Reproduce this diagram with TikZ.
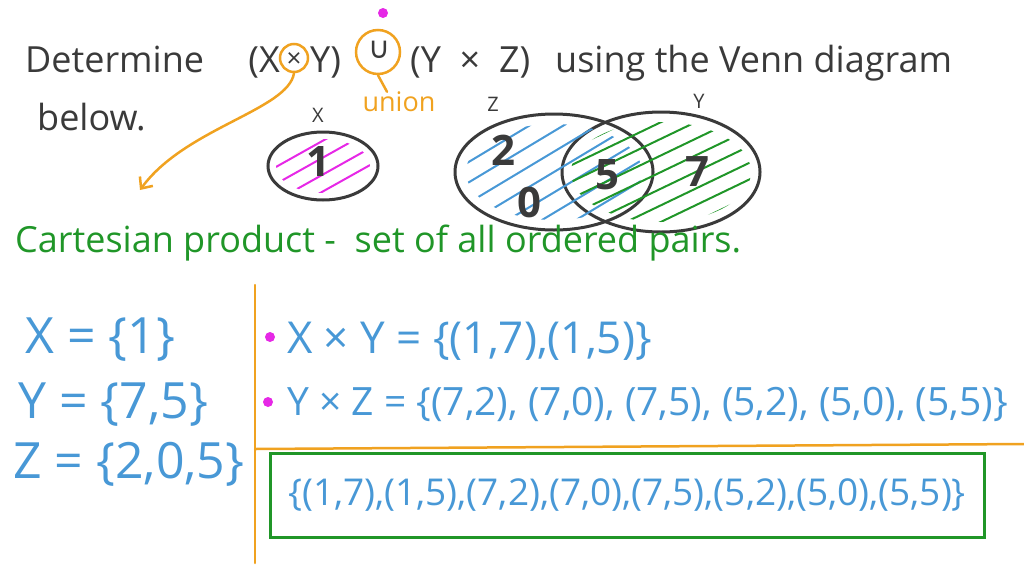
\documentclass[tikz,border=0pt]{standalone}
\usepackage{fontspec}
\setmainfont{Open Sans}
\newfontfamily\symfont{DejaVu Sans}
\usetikzlibrary{positioning,shapes,arrows.meta}
\definecolor{inkgray}{RGB}{58,58,58}
\definecolor{markorange}{RGB}{240,162,32}
\definecolor{markpink}{RGB}{230,40,230}
\definecolor{workblue}{RGB}{72,152,214}
\definecolor{notegreen}{RGB}{32,150,40}
\tikzstyle{title}=[text=inkgray, font=\fontsize{36}{40}\selectfont, inner sep=0pt, anchor=base west]
\tikzstyle{setlabel}=[text=inkgray, font=\fontsize{20}{24}\selectfont, inner sep=0pt]
\tikzstyle{digit}=[text=inkgray, font=\bfseries\fontsize{42}{46}\selectfont, inner sep=0pt]
\tikzstyle{setoval}=[ellipse, draw=inkgray, line width=3pt, inner sep=0pt]
\tikzstyle{ring}=[circle, draw=markorange, line width=2.5pt, inner sep=0pt]
\tikzstyle{markline}=[draw=markorange, line width=2.5pt, line cap=round]
\tikzstyle{dot}=[circle, fill=markpink, inner sep=0pt, minimum size=10pt]
\tikzstyle{work}=[text=workblue, inner sep=0pt, anchor=base west]
\tikzstyle{hatch}=[line width=2pt, line cap=round]

\begin{document}
\begin{tikzpicture}[x=1pt,y=-1pt]
  \useasboundingbox (0,0) rectangle (1024,576);
  % question
  \node (det) [title] at (25,72) {Determine};
  \node (lpx) [title, anchor=base east] at (280,72) {(X};
  \node (times) [title, anchor=center, font=\fontsize{26}{30}\selectfont] at (294,60) {×};
  \node (ryp) [title] at (310,72) {Y)};
  \node (cup) [title, anchor=center, font=\symfont\fontsize{30}{34}\selectfont] at (379,50) {∪};
  \node (yz) [title] at (410,72) {(Y\ \ ×\ \ Z)};
  \node (rest) [title] at (555,72) {using the Venn diagram};
  \node (below) [title] at (37,130) {below.};

  % orange marks
  \node (timesring) [ring, minimum size=28pt] at (294,58) {};
  \node (cupring) [ring, minimum size=44pt] at (378,52) {};
  \node (topdot) [dot] at (383,13) {};
  \node (union) [text=markorange, font=\fontsize{27}{30}\selectfont, inner sep=0pt] at (399,102) {union};
  \draw[markline] (cupring.south) -- ([xshift=-12pt]union.north);
  \coordinate (tip) at (140,190);
  \draw[markline, -{Straight Barb[length=9pt,width=16pt]}] (timesring.south) .. controls (288,110) and (185,128) .. (tip);

  % venn diagram
  \node (setX) [setoval, minimum width=110pt, minimum height=68pt] at (323,166) {};
  \node (setZ) [setoval, minimum width=198pt, minimum height=116pt] at (554,172) {};
  \node (setY) [setoval, minimum width=198pt, minimum height=120pt] at (661,172) {};
  \node (labX) [setlabel] at (318,115) {X};
  \node (labZ) [setlabel] at (493,104) {Z};
  \node (labY) [setlabel] at (699,101) {Y};
  \begin{scope}
    \clip (setX.center) ellipse [x radius=47, y radius=27];
    \foreach \k in {-1.5,-0.5,0.5,1.5}
      \draw[hatch, markpink, shift={(setX.center)}] (7*\k-50,13*\k+28) -- ++(100,-56);
  \end{scope}
  \begin{scope}
    \clip (setZ.center) ellipse [x radius=88, y radius=48];
    \foreach \k in {-3,...,3}
      \draw[hatch, workblue, shift={(setZ.center)}] (9*\k-100,15*\k+60) -- ++(200,-120);
  \end{scope}
  \begin{scope}
    \clip (setY.center) ellipse [x radius=90, y radius=50];
    \foreach \k in {-4,...,4}
      \draw[hatch, notegreen, shift={(setY.center)}] (6.5*\k-100,13.5*\k+48) -- ++(200,-96);
  \end{scope}
  \node (one) [digit] at (318,162) {1};
  \node (two) [digit] at (503,150) {2};
  \node (zero) [digit] at (529,202) {0};
  \node (five) [digit] at (607,175) {5};
  \node (seven) [digit] at (697,172) {7};

  % definition
  \node (note) [text=notegreen, font=\fontsize{36}{40}\selectfont, inner sep=0pt, anchor=base west] at (15,252) {Cartesian product -\ \ set of all ordered pairs.};

  % working
  \draw[markline] (255,285) -- (255,563);
  \draw[markline] (255,449) -- (1024,444);
  \node (defX) [work, font=\fontsize{50}{54}\selectfont] at (25,353) {X = \{1\}};
  \node (defY) [work, font=\fontsize{50}{54}\selectfont] at (18,418) {Y = \{7,5\}};
  \node (defZ) [work, font=\fontsize{50}{54}\selectfont] at (13,478) {Z = \{2,0,5\}};
  \node (bulA) [dot] at (270,337) {};
  \node (prodXY) [work, font=\fontsize{44}{48}\selectfont] at (287,353) {X × Y = \{(1,7),(1,5)\}};
  \node (bulB) [dot] at (268,402) {};
  \node (prodYZ) [work, font=\fontsize{39}{44}\selectfont] at (287,415) {Y × Z = \{(7,2), (7,0), (7,5), (5,2), (5,0), (5,5)\}};
  \node (answer) [draw=notegreen, line width=3pt, minimum width=714pt, minimum height=84pt, text=workblue, font=\fontsize{37}{40}\selectfont] at (627,495) {\{(1,7),(1,5),(7,2),(7,0),(7,5),(5,2),(5,0),(5,5)\}};
\end{tikzpicture}
\end{document}
